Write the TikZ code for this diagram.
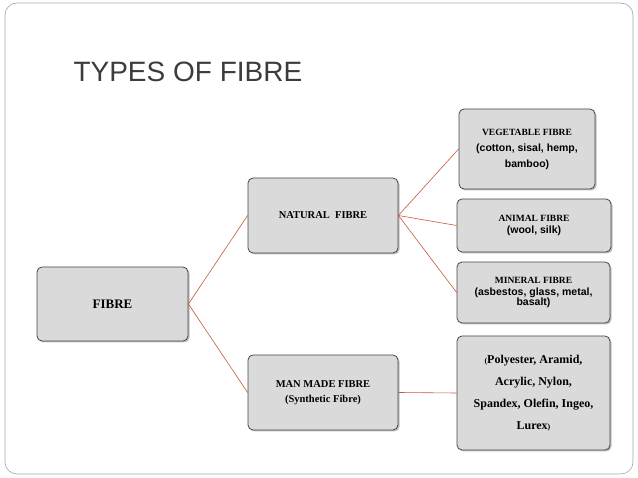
\documentclass[tikz,border=0pt]{standalone}
\usepackage{fontspec}
\setmainfont{Liberation Serif}
\newfontfamily\arial{Liberation Sans}
\newcommand\arb{\arial\bfseries\fontsize{10.5}{13}\selectfont}
\usetikzlibrary{shadows}
\definecolor{boxfill}{RGB}{218,218,218}
\definecolor{boxdraw}{RGB}{70,70,70}
\definecolor{link}{RGB}{196,90,60}
\definecolor{titlec}{RGB}{60,60,60}
\begin{document}
\begin{tikzpicture}[x=1pt,y=-1pt,
  box/.style={draw=boxdraw,line width=0.8pt,fill=boxfill,rounded corners=5pt,
    drop shadow={shadow xshift=1.5pt,shadow yshift=-1.5pt,opacity=0.5},
    align=center,inner sep=0pt,font=\bfseries\fontsize{10.5}{13}\selectfont},
  link/.style={draw=link,line width=0.6pt}]
\useasboundingbox (0,0) rectangle (638,478);
\draw[gray!70,line width=0.6pt,rounded corners=12pt] (5,3) rectangle (633,474);
\node[anchor=west,font=\arial\fontsize{28}{32}\selectfont,text=titlec] (title) at (70,72) {TYPES OF FIBRE};
\node[box,minimum width=151,minimum height=74,font=\bfseries\fontsize{13}{15}\selectfont] (fibre) at (112.5,304) {FIBRE};
\node[box,minimum width=150,minimum height=75] (nat) at (323,215.5) {NATURAL\ \ FIBRE};
\node[box,minimum width=150,minimum height=75] (man) at (323,392.5) {MAN MADE FIBRE\\[2pt](Synthetic Fibre)};
\node[box,minimum width=136,minimum height=80,font=\bfseries\fontsize{9.5}{12}\selectfont] (veg) at (527,149) {VEGETABLE FIBRE\\[4pt]{\arb (cotton, sisal, hemp,}\\[4pt]{\arb bamboo)}};
\node[box,minimum width=154,minimum height=53,font=\bfseries\fontsize{9.5}{12}\selectfont] (ani) at (534,225.5) {ANIMAL FIBRE\\{\arb (wool, silk)}};
\node[box,minimum width=153,minimum height=61,font=\bfseries\fontsize{9.5}{12}\selectfont] (min) at (533.5,292.5) {MINERAL FIBRE\\{\arb (asbestos, glass, metal,}\\[-2pt]{\arb basalt)}};
\node[box,minimum width=153,minimum height=114,font=\bfseries\fontsize{12}{14}\selectfont] (syn) at (533.5,393) {{\fontsize{8}{10}\selectfont(}Polyester, Aramid,\\[8pt]Acrylic, Nylon,\\[8pt]Spandex, Olefin, Ingeo,\\[8pt]Lurex{\fontsize{8}{10}\selectfont)}};
\draw[link] (fibre.east) -- (nat.west);
\draw[link] (fibre.east) -- (man.west);
\draw[link] (nat.east) -- (veg.west);
\draw[link] (nat.east) -- (ani.west);
\draw[link] (nat.east) -- (min.west);
\draw[link] (man.east) -- (syn.west);
\end{tikzpicture}
\end{document}
